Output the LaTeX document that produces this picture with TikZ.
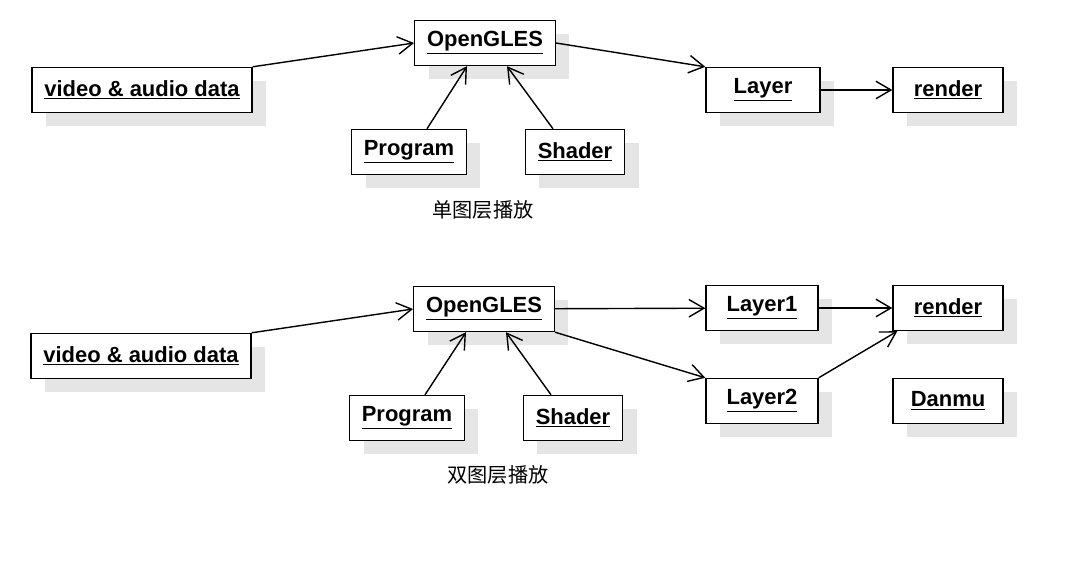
\documentclass[tikz,border=0pt]{standalone}
\usepackage{fontspec}
\setmainfont{Liberation Sans}
\newfontfamily\cjk{Noto Sans CJK SC}
\usetikzlibrary{arrows.meta,shadows}

\tikzset{
  obj/.style={draw,thick,fill=white,minimum height=0.9cm,inner xsep=7pt,
    font=\fontsize{12.5}{14}\selectfont\bfseries,
    drop shadow={shadow xshift=0.28cm,shadow yshift=-0.28cm,fill=black!10,opacity=1}},
  dep/.style={-{Straight Barb[length=3mm,width=3.5mm]},thick},
  caption/.style={font=\cjk\fontsize{11.5}{13}\selectfont}
}
\newcommand{\ul}[1]{\underline{#1}}

\begin{document}
\begin{tikzpicture}[x=0.02cm,y=-0.02cm]
  \useasboundingbox (0,0) rectangle (1080,580);
  % single layer
  \node[obj] (data) at (142,90) {\ul{video \& audio data}};
  \node[obj] (gles) at (485,43) {\ul{OpenGLES}};
  \node[obj,minimum width=2.28cm] (layer) at (763,90) {\ul{Layer}};
  \node[obj,minimum width=2.2cm] (render) at (948,90) {\ul{render}};
  \node[obj] (prog) at (409,152) {\ul{Program}};
  \node[obj] (shader) at (575,152) {\ul{Shader}};
  \node[caption] (cap1) at (483,210) {单图层播放};
  \draw[dep] (data.north east) -- (gles.west);
  \draw[dep] (gles.east) -- (layer.north west);
  \draw[dep] (layer) -- (render);
  \draw[dep] ([xshift=0.36cm]prog.north) -- ([xshift=-0.36cm]gles.south);
  \draw[dep] ([xshift=-0.44cm]shader.north) -- ([xshift=0.44cm]gles.south);

  % double layer
  \node[obj] (data2) at (141,356) {\ul{video \& audio data}};
  \node[obj] (gles2) at (484,309) {\ul{OpenGLES}};
  \node[obj,minimum width=2.24cm] (layer1) at (762,308) {\ul{Layer1}};
  \node[obj,minimum width=2.2cm] (render2) at (948,308) {\ul{render}};
  \node[obj,minimum width=2.24cm] (layer2) at (762,401) {\ul{Layer2}};
  \node[obj,minimum width=2.2cm] (danmu) at (948,401) {\ul{Danmu}};
  \node[obj] (prog2) at (407,418) {\ul{Program}};
  \node[obj] (shader2) at (573,418) {\ul{Shader}};
  \node[caption] (cap2) at (498,475) {双图层播放};
  \draw[dep] (data2.north east) -- (gles2.west);
  \draw[dep] (gles2) -- (layer1);
  \draw[dep] (gles2.south east) -- (layer2.north west);
  \draw[dep] (layer1) -- (render2);
  \draw[dep] (layer2.north east) -- ([xshift=0.1cm]render2.south west);
  \draw[dep] ([xshift=0.36cm]prog2.north) -- ([xshift=-0.36cm]gles2.south);
  \draw[dep] ([xshift=-0.44cm]shader2.north) -- ([xshift=0.44cm]gles2.south);
\end{tikzpicture}
\end{document}
